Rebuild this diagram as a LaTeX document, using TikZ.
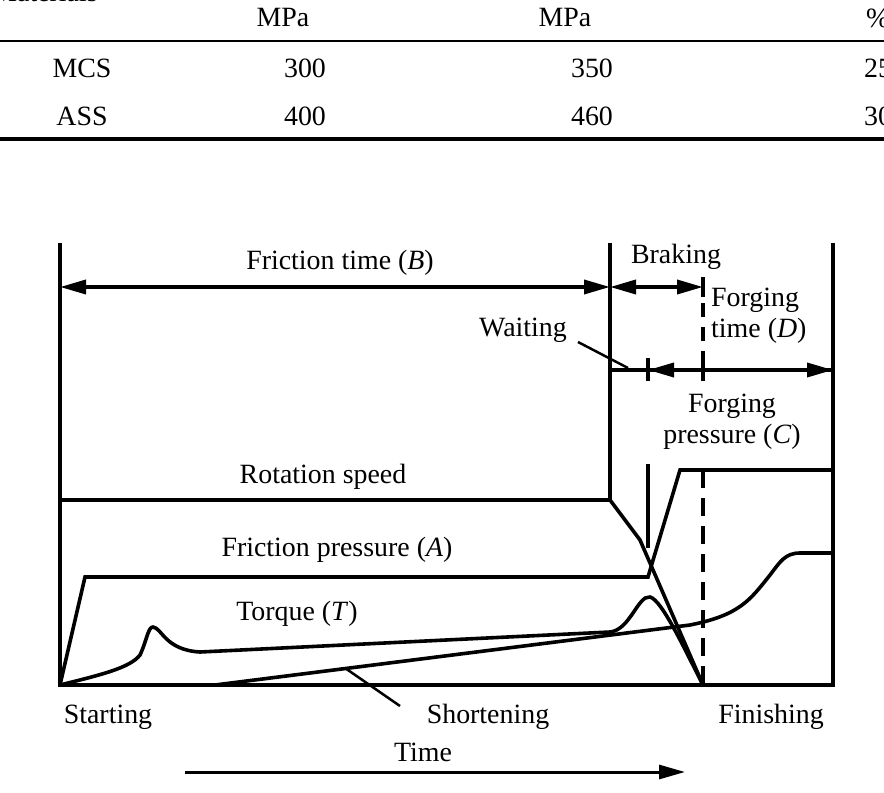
\documentclass[tikz,border=0pt]{standalone}
\usepackage{fontspec}
\setmainfont{Liberation Serif}
\usetikzlibrary{arrows.meta}
\begin{document}
\begin{tikzpicture}[x=1bp,y=-1bp,
  thick line/.style={line width=3.6bp},
  lbl/.style={font=\fontsize{28}{31}\selectfont, inner sep=0},
  tip/.style={-{Triangle[length=26bp,width=14bp]}},
  tips/.style={{Triangle[length=26bp,width=14bp]}-{Triangle[length=26bp,width=14bp]}}]
\useasboundingbox (0,0) rectangle (884,793);
% table
\begin{scope}
\clip (0,0) rectangle (884,793);
\node[lbl] (hm) at (45,-8) {Materials};
\node[lbl] (h1) at (283,18) {MPa};
\node[lbl] (h2) at (565,18) {MPa};
\node[lbl, anchor=west] (h3) at (866,18) {\%};
\draw[line width=1.5bp] (0,41) coordinate (t1) -- (884,41) coordinate (t2);
\node[lbl] (m1) at (82,68) {MCS};
\node[lbl] (m2) at (305,68) {300};
\node[lbl] (m3) at (592,68) {350};
\node[lbl, anchor=west] (m4) at (864,68) {25};
\node[lbl] (a1) at (82,116) {ASS};
\node[lbl] (a2) at (305,116) {400};
\node[lbl] (a3) at (592,116) {460};
\node[lbl, anchor=west] (a4) at (864,116) {30};
\draw[line width=3.5bp] (0,139) coordinate (t3) -- (884,139) coordinate (t4);
\end{scope}
% frame
\coordinate (L0) at (60,243); \coordinate (L1) at (60,685);
\coordinate (R0) at (833,243); \coordinate (R1) at (833,685);
\draw[thick line] (L0) -- (L1) -- (R1) -- (R0);
\coordinate (M0) at (610,243); \coordinate (M1) at (610,500);
\draw[thick line] (M0) -- (M1);
% top arrows
\coordinate (D0) at (703,277); \coordinate (D1) at (703,297);
\draw[thick line, tips] (60,287) coordinate (fa) -- (610,287) coordinate (fb);
\draw[thick line, tips] (fb) -- (703,287) coordinate (fc);
\draw[thick line] (D0) -- (D1);
\draw[thick line, dash pattern=on 14bp off 10bp] (703,303) coordinate (d0) -- (703,380) coordinate (d1);
\draw[thick line, dash pattern=on 18bp off 10bp] (703,470) coordinate (d2) -- (703,685) coordinate (d3);
% forging time
\draw[thick line] (610,370) coordinate (g0) -- (833,370) coordinate (g1);
\draw[thick line, tip] (703,370) coordinate (g2) -- (648,370) coordinate (g3);
\draw[thick line, tip] (g2) -- (g1);
\draw[thick line] (648,358) coordinate (k0) -- (648,381) coordinate (k1);
\draw[thick line] (703,358) coordinate (k2) -- (703,381) coordinate (k3);
% labels
\node[lbl] (ft) at (340,263) {Friction time (\textit{B})};
\node[lbl] (br) at (676,257) {Braking};
\node[lbl, align=left, anchor=west] (fd) at (711,316) {Forging\\time (\textit{D})};
\node[lbl] (wt) at (523,330) {Waiting};
\draw[line width=2.5bp] (578,342) coordinate (w0) -- (628,368) coordinate (w1);
\node[lbl, align=center] (fp) at (732,422) {Forging\\pressure (\textit{C})};
\node[lbl] (rs) at (323,477) {Rotation speed};
\node[lbl] (fpa) at (337,550) {Friction pressure (\textit{A})};
\node[lbl] (tq) at (297,614) {Torque (\textit{T})};
\node[lbl] (st) at (108,717) {Starting};
\node[lbl] (sh) at (488,717) {Shortening};
\node[lbl] (fi) at (771,717) {Finishing};
\node[lbl] (tm) at (423,752) {Time};
\draw[line width=3bp, tip] (185,772) coordinate (ta) -- (685,772) coordinate (tb);
% rotation speed
\draw[thick line] (60,500) coordinate (r0) -- (M1) -- (640,540) -- (703,685);
% friction pressure
\draw[thick line] (L1) -- (85,577) -- (648,577) -- (680,470) -- (833,470);
\draw[thick line] (648,464) coordinate (p0) -- (648,548) coordinate (p1);
% torque
\draw[thick line] (L1) .. controls (100,675) and (130,668) .. (140,655)
  .. controls (147,640) and (148,627) .. (153,627)
  .. controls (162,628) and (165,650) .. (200,652)
  -- (610,632) .. controls (630,630) and (638,595) .. (650,597)
  .. controls (662,600) and (685,650) .. (703,685);
% shortening
\draw[thick line] (215,685) -- (690,625) .. controls (740,615) and (750,600) .. (770,575)
  .. controls (780,562) and (785,553) .. (800,553) -- (833,553);
\draw[line width=2.5bp] (345,668) coordinate (s0) -- (400,706) coordinate (s1);
\end{tikzpicture}
\end{document}
